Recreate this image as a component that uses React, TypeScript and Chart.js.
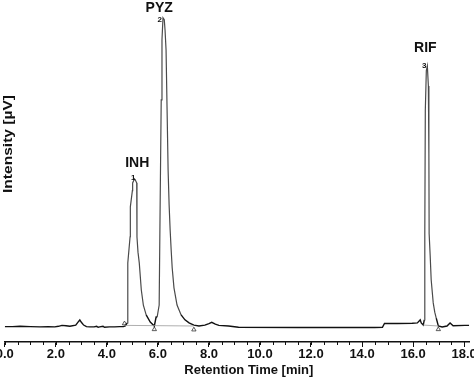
import React, { useEffect, useRef } from 'react';
import { Chart, registerables } from 'chart.js';

Chart.register(...registerables);

// Chromatogram trace: retention time [min] and intensity (arbitrary µV units)
const traceTimes = [
  0.0, 0.3, 0.6, 1.0, 1.38, 1.7, 1.96, 2.1, 2.24, 2.4, 2.55, 2.78, 2.9, 2.94, 3.0, 3.09, 3.2, 3.33, 3.5, 3.6,
  3.66, 3.72, 3.85, 3.91, 4.1, 4.3, 4.5, 4.65, 4.72, 4.8, 4.82, 4.91, 4.92, 5.0, 5.01, 5.08, 5.11, 5.17, 5.18, 5.22,
  5.27, 5.35, 5.43, 5.54, 5.7, 5.86, 5.93, 5.97, 6.05, 6.09, 6.13, 6.16, 6.2, 6.25, 6.28, 6.32, 6.36, 6.4, 6.44, 6.48,
  6.52, 6.56, 6.63, 6.75, 6.91, 7.06, 7.22, 7.41, 7.61, 7.84, 8.0, 8.11, 8.25, 8.39, 8.77, 9.16, 11.5, 14.49, 14.8, 14.88,
  15.39, 15.97, 16.17, 16.28, 16.32, 16.4, 16.44, 16.46, 16.48, 16.52, 16.56, 16.6, 16.62, 16.63, 16.67, 16.71, 16.79, 16.85, 16.91, 16.99,
  17.14, 17.33, 17.45, 17.57, 18.03, 18.2,
];
const traceValues = [
  -2, -2, -1, -2, -3, -2, -3, -1, 2, 1, -1, 3, 16, 20, 12, 3, -2, -3, -3, -1,
  -4, -3, -1, -4, -3, -3, -2, -2, 0, 10, 205, 290, 387, 440, 465, 478, 475, 465, 289, 240,
  205, 117, 68, 36, 13, 0, 29, 29, 68, 410, 735, 930, 1001, 995, 962, 897, 702, 507, 393, 312,
  247, 189, 124, 68, 36, 20, 10, 3, 0, 3, 8, 12, 6, 2, 0, -4, -5, -5, -4, 8,
  8, 9, 10, 20, 10, 3, 20, 300, 700, 830, 845, 780, 560, 300, 230, 150, 75, 45, 25, 0,
  -3, 0, 10, 1, 2, 2,
];

// Integration baselines (start / end of integrated peaks)
const baselineTimes = [4.69, 7.41, NaN, 16.4, 16.99];
const baselineValues = [2, 0, null, 3, 0];

// Peak start / end markers
const markerTimes = [4.69, 5.86, 7.41, 16.99];
const markerValues = [8, -11, -12, -11];

// Peak annotations
const peakNames = ['INH', 'PYZ', 'RIF'];
const peakNameTimes = [5.19, 6.05, 16.48];
const peakNameValues = [530, 1034, 904];
const peakNumbers = ['1', '2', '3'];
const peakNumberTimes = [5.03, 6.07, 16.44];
const peakNumberValues = [482, 995, 845];

// Axis
const xMin = 0;
const xMax = 18.2;
const yMin = -52;
const yMax = 1043;
const majorStep = 2;
const minorStep = 0.5;
const xTitle = 'Retention Time [min]';
const yTitle = 'Intensity [µV]';

const FONT = '"Liberation Sans", Arial, sans-serif';

const overlayPlugin = {
  id: 'overlay',
  afterDraw(chart: any) {
    const { ctx, chartArea } = chart;
    const xs = chart.scales.x;
    const ys = chart.scales.y;
    ctx.save();
    // minor ticks
    ctx.strokeStyle = '#111';
    ctx.lineWidth = 1;
    for (let v = xMin; v <= xMax + 1e-9; v += minorStep) {
      const px = Math.round(xs.getPixelForValue(v)) + 0.5;
      ctx.beginPath();
      ctx.moveTo(px, chartArea.bottom);
      ctx.lineTo(px, chartArea.bottom + 3);
      ctx.stroke();
    }
    // peak names
    ctx.fillStyle = '#111';
    ctx.textAlign = 'center';
    ctx.textBaseline = 'middle';
    ctx.font = `bold 14px ${FONT}`;
    peakNames.forEach((n, i) => {
      ctx.fillText(n, xs.getPixelForValue(peakNameTimes[i]), ys.getPixelForValue(peakNameValues[i]));
    });
    ctx.font = `bold 8px ${FONT}`;
    peakNumbers.forEach((n, i) => {
      ctx.fillText(n, xs.getPixelForValue(peakNumberTimes[i]), ys.getPixelForValue(peakNumberValues[i]));
    });
    // x title
    ctx.font = `bold 13px ${FONT}`;
    ctx.fillText(xTitle, chart.width * 0.525, chart.height - 14);
    // y title
    ctx.save();
    ctx.translate(8, chart.height * 0.375);
    ctx.rotate(-Math.PI / 2);
    ctx.font = `bold 13px ${FONT}`;
    const w = ctx.measureText(yTitle).width;
    ctx.scale(98 / w, 1);
    ctx.fillText(yTitle, 0, 0);
    ctx.restore();
    ctx.restore();
  },
};

const isPeak = (c: any) => Math.max(c.p0.parsed.y, c.p1.parsed.y) > 40;

export default function App() {
  const ref = useRef<HTMLCanvasElement>(null);
  useEffect(() => {
    document.body.style.margin = '0';
    const canvas = ref.current;
    if (!canvas) return;
    const trace = traceTimes.map((t, i) => ({ x: t, y: traceValues[i] }));
    const baseline = baselineTimes.map((t, i) => ({ x: t, y: baselineValues[i] }));
    const markers = markerTimes.map((t, i) => ({ x: t, y: markerValues[i] }));
    const chart = new Chart(canvas, {
      type: 'line',
      data: {
        datasets: [
          {
            data: baseline as any,
            borderColor: '#9a9a9a',
            borderWidth: 0.8,
            pointRadius: 0,
            spanGaps: false,
          },
          {
            data: trace,
            borderColor: '#111',
            borderWidth: 1.4,
            pointRadius: 0,
            tension: 0,
            segment: {
              borderColor: (c: any) => (isPeak(c) ? '#4a4a4a' : '#111'),
              borderWidth: (c: any) => (isPeak(c) ? 1.2 : 1.4),
            },
          },
          {
            data: markers,
            showLine: false,
            pointStyle: 'triangle',
            pointRadius: 2.5,
            borderColor: '#333',
            backgroundColor: '#fff',
            borderWidth: 0.8,
          },
        ],
      },
      options: {
        responsive: false,
        animation: false,
        devicePixelRatio: 1,
        layout: { padding: { left: 4.5, right: 2, top: 5, bottom: 0 } },
        plugins: { legend: { display: false }, tooltip: { enabled: false } },
        scales: {
          x: {
            type: 'linear',
            min: xMin,
            max: xMax,
            border: { display: true, color: '#111', width: 1.5 },
            grid: { display: true, drawOnChartArea: false, tickLength: 5, color: '#111', lineWidth: 1 },
            ticks: {
              stepSize: majorStep,
              includeBounds: false,
              autoSkip: false,
              maxRotation: 0,
              padding: 0,
              color: '#111',
              font: { family: FONT, size: 13, weight: 'bold' },
              callback: (v: any) => Number(v).toFixed(1),
            },
            afterFit: (s: any) => {
              s.height = 42;
              s.paddingLeft = 0;
              s.paddingRight = 0;
            },
          },
          y: { display: false, min: yMin, max: yMax },
        },
      },
      plugins: [overlayPlugin],
    });
    return () => chart.destroy();
  }, []);
  return (
    <div style={{ width: 474, height: 384 }}>
      <canvas ref={ref} width={474} height={384} style={{ display: 'block' }} />
    </div>
  );
}
